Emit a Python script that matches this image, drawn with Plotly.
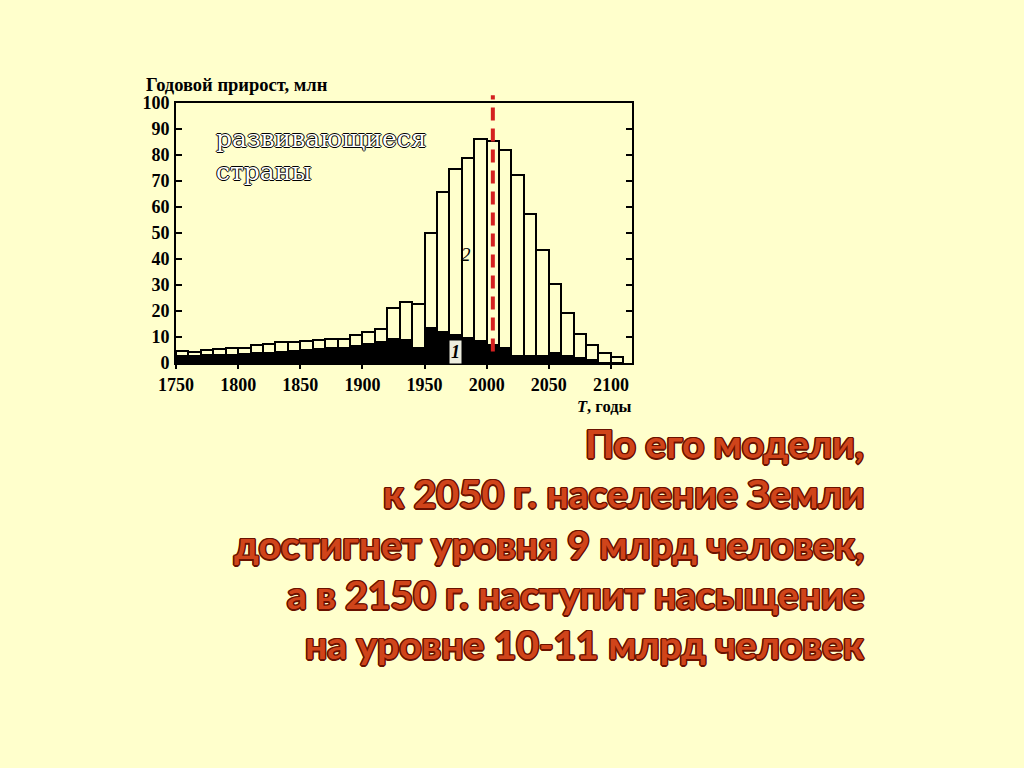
import plotly.graph_objects as go

# ---- data ----
bin_start = list(range(1750, 2110, 10))  # 36 decade bins
total_growth = [4.5, 4.1, 5.1, 5.5, 5.6, 5.8, 6.9, 7.4, 7.9, 8.2, 8.6, 8.7, 9.1, 9.2,
                10.6, 11.9, 13.0, 21.1, 23.4, 22.6,
                49.9, 65.9, 74.7, 78.9, 86.0, 85.5, 82.0, 72.5, 57.3, 43.5,
                30.4, 19.2, 11.1, 7.0, 3.8, 2.3]
developed_growth = [2.6, 2.6, 3.1, 3.2, 3.2, 3.3, 3.7, 3.8, 4.3, 4.5, 5.0, 5.4, 5.9, 5.9,
                    6.6, 7.2, 7.9, 9.2, 9.0, 5.8,
                    13.4, 12.1, 10.9, 9.6, 8.3, 7.0, 5.8, 2.6, 2.6, 2.6,
                    3.8, 2.6, 1.9, 1.3, 0.0, 0.0]
x_ticks = [1750, 1800, 1850, 1900, 1950, 2000, 2050, 2100]
y_ticks = list(range(0, 101, 10))
marker_year = 2005
text_lines = ["По его модели,",
              "к 2050 г. население Земли",
              "достигнет уровня 9 млрд человек,",
              "а в 2150 г. наступит насыщение",
              "на уровне 10-11 млрд человек"]

BG = "#FFFFCC"
centers = [b + 5 for b in bin_start]

# plot area in pixels
L, R, T, B = 176, 632, 102.7, 363.3
W, H = R - L, B - T


def px(xp):
    return (xp - L) / W


def py(yp):
    return (B - yp) / H


fig = go.Figure()
fig.add_trace(go.Bar(x=centers, y=total_growth, width=10,
                     marker=dict(color=BG, line=dict(color="black", width=2)),
                     showlegend=False, hoverinfo="skip"))
fig.add_trace(go.Bar(x=centers, y=developed_growth, width=10,
                     marker=dict(color="black", line=dict(color="black", width=1)),
                     showlegend=False, hoverinfo="skip"))

serif_bold = dict(family="Liberation Serif", size=18, color="black", weight="bold")

fig.update_layout(
    width=1024, height=768,
    paper_bgcolor=BG, plot_bgcolor=BG,
    barmode="overlay", bargap=0,
    margin=dict(l=L, r=1024 - R, t=T, b=768 - B, autoexpand=False),
    xaxis=dict(range=[1750, 2117], tickvals=x_ticks, ticks="outside", ticklen=4,
               tickwidth=2, tickcolor="black", showline=True, linecolor="black",
               linewidth=2, mirror=True, showgrid=False, zeroline=False,
               tickfont=serif_bold),
    yaxis=dict(range=[0, 100], tickvals=y_ticks, ticks="inside", ticklen=6,
               tickwidth=2, tickcolor="black", showline=True, linecolor="black",
               linewidth=2, mirror="ticks", showgrid=False, zeroline=False,
               tickfont=serif_bold, ticklabelstandoff=1),
)

# red dashed vertical line
fig.add_shape(type="line", xref="x", yref="paper", x0=marker_year, x1=marker_year,
              y0=py(351.7), y1=py(95), line=dict(color="#D42020", width=4, dash="13px,8px"))

annots = []
annots.append(dict(text="Годовой прирост, млн", x=px(144), y=py(85), xanchor="left",
                   yanchor="middle", font=dict(family="Liberation Serif", size=18.5,
                                               color="black", weight="bold")))
annots.append(dict(text="<i>T</i>, годы", x=px(634), y=py(407), xanchor="right",
                   yanchor="middle", font=dict(family="Liberation Serif", size=16.5,
                                               color="black", weight="bold")))
annots.append(dict(text="<i>2</i>", x=px(466), y=py(255), xanchor="center", yanchor="middle",
                   font=dict(family="Liberation Serif", size=19, color="black")))
annots.append(dict(text="<i>1</i>", x=px(455), y=py(352), xanchor="center", yanchor="middle",
                   bgcolor="#EDEDDF", borderpad=1,
                   font=dict(family="Liberation Serif", size=18, color="black", weight="bold")))
outline_w = "1px 0 0 #000, -1px 0 0 #000, 0 1px 0 #000, 0 -1px 0 #000"
annots.append(dict(text="развивающиеся<br>страны", x=px(214), y=py(155), xanchor="left",
                   yanchor="middle", align="left",
                   font=dict(family="DejaVu Serif", size=25, color="white", shadow=outline_w)))

outline_r = ("1.5px 0 0 #6A1200, -1.5px 0 0 #6A1200, 0 1.5px 0 #6A1200, 0 -1.5px 0 #6A1200,"
             " 1px 1px 0 #6A1200, -1px -1px 0 #6A1200, 1px -1px 0 #6A1200, -1px 1px 0 #6A1200")
line_y = [440, 491, 542, 592, 642]
for t, yy in zip(text_lines, line_y):
    annots.append(dict(text=t, x=px(866), y=py(yy + 3), xanchor="right", yanchor="middle",
                       font=dict(family="Lato", size=39, color="#D0441A", weight="bold",
                                 shadow=outline_r)))

for a in annots:
    a.update(xref="paper", yref="paper", showarrow=False)
    fig.add_annotation(**a)

fig.write_html("out.html", config={"displayModeBar": False},
               post_script="document.body.style.margin='0';"
                           "document.body.style.background='#FFFFCC';")
